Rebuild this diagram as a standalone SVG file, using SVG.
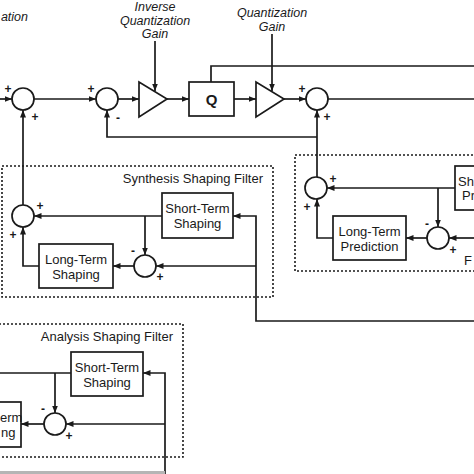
<svg xmlns="http://www.w3.org/2000/svg" width="474" height="474" viewBox="0 0 474 474">
<defs>
<marker id="ah" markerUnits="userSpaceOnUse" markerWidth="8" markerHeight="6" refX="7.5" refY="3" orient="auto"><path d="M0,0 L7.5,3 L0,6 z" fill="#1a1a1a"/></marker>
</defs>
<style>
.ln{fill:none;stroke:#1a1a1a;stroke-width:1.7}
.ar{marker-end:url(#ah)}
.bx{fill:#fff;stroke:#1a1a1a;stroke-width:1.7}
.dot{fill:none;stroke:#1a1a1a;stroke-width:1.6;stroke-dasharray:2 2}
.t{font-family:"Liberation Sans",Arial,sans-serif;font-size:13px;fill:#1a1a1a}
.it{font-family:"Liberation Sans",Arial,sans-serif;font-size:12.5px;font-style:italic;fill:#1a1a1a}
.s{font-family:"Liberation Sans",Arial,sans-serif;font-size:12px;font-weight:bold;fill:#1a1a1a;text-anchor:middle}
.c{text-anchor:middle}
</style>
<rect width="474" height="474" fill="#fff"/>
<g id="frames">
<rect class="dot" x="295" y="155" width="190" height="116"/>
<rect class="dot" x="2" y="166" width="271" height="131"/>
<rect class="dot" x="-5" y="324" width="188" height="133"/>
<text class="t" x="263" y="183" text-anchor="end">Synthesis Shaping Filter</text>
<text class="t" x="173" y="341" text-anchor="end">Analysis Shaping Filter</text>
<text class="t" x="464" y="265">F</text>
</g>
<g id="labels">
<text class="it" x="28" y="21" text-anchor="end">ation</text>
<text class="it c" x="155" y="11">Inverse</text>
<text class="it c" x="155" y="24.5">Quantization</text>
<text class="it c" x="155" y="38">Gain</text>
<text class="it c" x="272" y="17">Quantization</text>
<text class="it c" x="272" y="30.5">Gain</text>
</g>
<g id="connectors">
<path class="ln ar" d="M0,99 H12"/>
<path class="ln ar" d="M34,99 H96"/>
<path class="ln ar" d="M118,99 H139"/>
<path class="ln ar" d="M155,41 V91"/>
<path class="ln ar" d="M167,99 H189"/>
<path class="ln ar" d="M234,99 H256"/>
<path class="ln ar" d="M272,34 V91"/>
<path class="ln ar" d="M284,99 H306"/>
<path class="ln" d="M328,99 H474"/>
<path class="ln" d="M211,82 V66 H474"/>
<path class="ln ar" d="M317,177 V110"/>
<path class="ln ar" d="M317,137 H107 V110"/>
<path class="ln ar" d="M23,205 V110"/>
<path class="ln ar" d="M455,188 H327"/>
<path class="ln ar" d="M438,188 V227"/>
<path class="ln ar" d="M474,238 H449"/>
<path class="ln ar" d="M427,238 H406"/>
<path class="ln ar" d="M333,238 H317 V199"/>
<path class="ln ar" d="M474,321 H256 V216 H233"/>
<path class="ln ar" d="M256,266 H156"/>
<path class="ln ar" d="M162,216 H34"/>
<path class="ln ar" d="M145,216 V255"/>
<path class="ln ar" d="M134,266 H113"/>
<path class="ln ar" d="M39,266 H23 V227"/>
<path class="ln ar" d="M165,474 V373 H143"/>
<path class="ln ar" d="M165,424 H66"/>
<path class="ln" d="M71,373 H0"/>
<path class="ln ar" d="M55,373 V413"/>
<path class="ln ar" d="M44,424 H21"/>
<line x1="0" y1="472.5" x2="165" y2="472.5" stroke="#b5b5b5" stroke-width="3"/>
</g>
<g id="sum1"><circle class="bx" cx="23" cy="99" r="11"/><text class="s" x="8" y="93">+</text><text class="s" x="35" y="121">+</text></g>
<g id="sum3"><circle class="bx" cx="107" cy="99" r="11"/><text class="s" x="91" y="93">+</text><text class="s" x="118" y="122">-</text></g>
<g id="invgain"><polygon class="bx" points="139,82 139,117 167,99"/></g>
<g id="quant"><rect class="bx" x="189" y="82" width="45" height="34"/><text class="t c" x="211.5" y="105" style="font-size:15px;font-weight:bold">Q</text></g>
<g id="gain"><polygon class="bx" points="256,82 256,117 284,99"/></g>
<g id="sum4"><circle class="bx" cx="317" cy="99" r="11"/><text class="s" x="302" y="93">+</text><text class="s" x="327" y="121">+</text></g>
<g id="sum5"><circle class="bx" cx="316" cy="188" r="11"/><text class="s" x="333" y="183">+</text><text class="s" x="307" y="211">+</text></g>
<g id="sum6"><circle class="bx" cx="438" cy="238" r="11"/><text class="s" x="427" y="228">-</text><text class="s" x="453" y="254">+</text></g>
<g id="stp"><rect class="bx" x="455" y="166" width="30" height="44"/><text class="t" x="458" y="186">Sh</text><text class="t" x="462" y="200">Pr</text></g>
<g id="ltp"><rect class="bx" x="333" y="216" width="73" height="44"/><text class="t c" x="369.5" y="236">Long-Term</text><text class="t c" x="369.5" y="251">Prediction</text></g>
<g id="sum2"><circle class="bx" cx="23" cy="216" r="11"/><text class="s" x="40" y="210">+</text><text class="s" x="13" y="239">+</text></g>
<g id="sts"><rect class="bx" x="162" y="193" width="71" height="45"/><text class="t c" x="197.5" y="213">Short-Term</text><text class="t c" x="197.5" y="228">Shaping</text></g>
<g id="sum7"><circle class="bx" cx="145" cy="266" r="11"/><text class="s" x="133" y="255">-</text><text class="s" x="160" y="281">+</text></g>
<g id="lts"><rect class="bx" x="39" y="244" width="74" height="44"/><text class="t c" x="76" y="264">Long-Term</text><text class="t c" x="76" y="279">Shaping</text></g>
<g id="asts"><rect class="bx" x="71" y="352" width="72" height="44"/><text class="t c" x="107" y="372">Short-Term</text><text class="t c" x="107" y="387">Shaping</text></g>
<g id="sum8"><circle class="bx" cx="55" cy="424" r="11"/><text class="s" x="43" y="413">-</text><text class="s" x="69" y="440">+</text></g>
<g id="alts"><rect class="bx" x="-10" y="402" width="31" height="45"/><text class="t" x="0" y="422">erm</text><text class="t" x="1" y="437">ng</text></g>
</svg>
